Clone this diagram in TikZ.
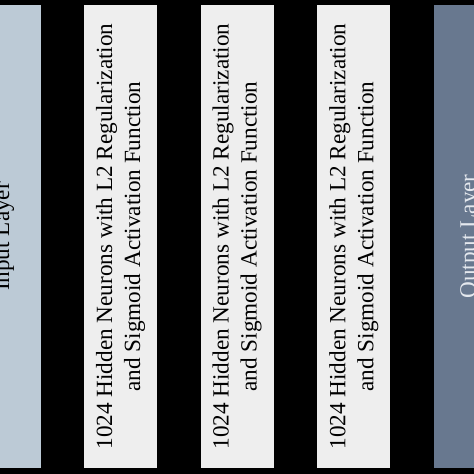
\documentclass[tikz,border=0pt]{standalone}
\usepackage{fontspec}
\setmainfont{Liberation Serif}

\definecolor{inputgray}{RGB}{188,202,214}
\definecolor{hiddengray}{RGB}{238,238,238}
\definecolor{outputslate}{RGB}{104,120,143}
\definecolor{outputtext}{RGB}{228,232,238}

\begin{document}
\begin{tikzpicture}[x=1pt,y=1pt,
        layer/.style={rotate=90, minimum width=463pt, minimum height=73pt,
            inner sep=0pt, align=center, font=\fontsize{23.2}{28}\selectfont}]

        % background
        \fill[black] (0,0) rectangle (474,474);
        \useasboundingbox (0,0) rectangle (474,474);
        \clip (0,0) rectangle (474,474);

        % input
        \node[layer, fill=inputgray] (input) at (4,237.5) {Input Layer};

        % hidden
        \node[layer, fill=hiddengray] (hidden1) at (120.6,237.5) {1024 Hidden Neurons with L2 Regularization\\and Sigmoid Activation Function};
        \node[layer, fill=hiddengray] (hidden2) at (237.2,237.5) {1024 Hidden Neurons with L2 Regularization\\and Sigmoid Activation Function};
        \node[layer, fill=hiddengray] (hidden3) at (353.8,237.5) {1024 Hidden Neurons with L2 Regularization\\and Sigmoid Activation Function};

        % output
        \node[layer, fill=outputslate, text=outputtext] (output) at (470.4,237.5) {Output Layer};
    \end{tikzpicture}
\end{document}
